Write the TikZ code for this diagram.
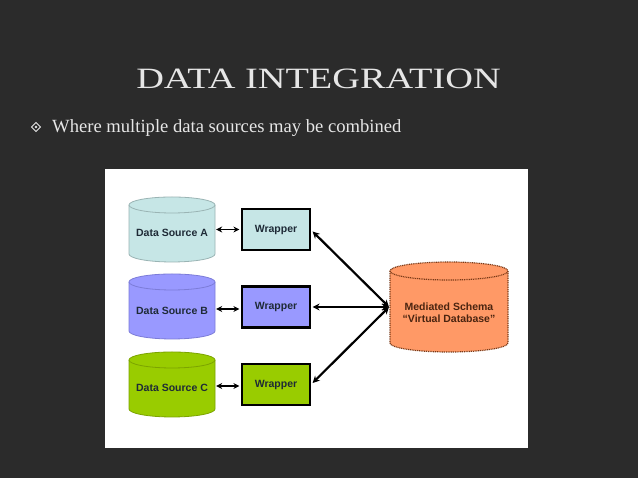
\documentclass[tikz,border=0pt]{standalone}
\usepackage{fontspec}
\setmainfont{Liberation Serif}
\newfontfamily\diagfont{Liberation Sans}
\usetikzlibrary{arrows.meta,calc}
\definecolor{bgc}{HTML}{2B2B2B}
\definecolor{slidetxt}{HTML}{E6E6E6}
\definecolor{cA}{HTML}{C6E6E6}
\definecolor{cAline}{HTML}{9AB4B4}
\definecolor{cB}{HTML}{9999FF}
\definecolor{cBline}{HTML}{7C7CD8}
\definecolor{cC}{HTML}{99CC00}
\definecolor{cCline}{HTML}{7CA400}
\definecolor{cM}{HTML}{FF9966}
\definecolor{cMline}{HTML}{7A3A18}
\definecolor{txt}{HTML}{1E2A36}
\definecolor{txtM}{HTML}{4A2410}
\newcommand\mycyl[6]{%
  \path[#6] (#1-#4,#3-#5) -- (#1-#4,#2+#5)
    arc[start angle=180,end angle=360,x radius=#4,y radius=#5]
    -- (#1+#4,#3-#5)
    arc[start angle=0,end angle=180,x radius=#4,y radius=#5] -- cycle;
  \path[#6] (#1-#4,#3-#5) arc[start angle=180,end angle=360,x radius=#4,y radius=#5];
}
\begin{document}
\begin{tikzpicture}[x=1pt,y=1pt,
  dfont/.style={font=\diagfont\bfseries\fontsize{10.5}{12}\selectfont},
  dstext/.style={dfont, text=txt, minimum width=86pt, inner sep=0pt},
  wrap/.style={dfont, text=txt, draw=black, line width=2.2pt, minimum width=68pt, minimum height=41pt, inner sep=0pt},
  link/.style={line width=2.2pt, {Stealth[length=7pt,width=7pt]}-{Stealth[length=7pt,width=7pt]}},
  slink/.style={line width=1.8pt, {Stealth[length=6pt,width=6pt]}-{Stealth[length=6pt,width=6pt]}}
]
\useasboundingbox (0,0) rectangle (638,478);
\fill[bgc] (0,0) rectangle (638,478);

% title and bullet
\node[anchor=base, text=slidetxt, font=\fontsize{29.5}{33}\selectfont] (title) at (318.5,389) {\scalebox{1.3}[1]{DATA INTEGRATION}};
\draw[slidetxt, line width=0.8pt] (36,355.5) -- (40.5,351) -- (36,346.5) -- (31.5,351) -- cycle;
\fill[slidetxt] (36,351) circle (1.3);
\node[anchor=base west, text=slidetxt, font=\fontsize{18.6}{22}\selectfont, inner sep=0pt] (bullet) at (52,345) {Where multiple data sources may be combined};

% panel
\fill[white] (105,30) rectangle (528,309);

% cylinders
\mycyl{172}{216}{281}{43}{8}{fill=cA, draw=cAline, line width=0.8pt}
\mycyl{172}{139}{204}{43}{8}{fill=cB, draw=cBline, line width=0.8pt}
\mycyl{172}{61}{126}{43}{8}{fill=cC, draw=cCline, line width=0.8pt}
\mycyl{449}{126}{216}{59}{9}{fill=cM, draw=cMline, line width=1.2pt, dash pattern=on 1pt off 0.8pt}

\node[dstext] (dsA) at (172,245.5) {Data Source A};
\node[dstext] (dsB) at (172,167) {Data Source B};
\node[dstext] (dsC) at (172,90) {Data Source C};

\node[wrap, fill=cA] (wA) at (276,248.5) {Wrapper};
\node[wrap, fill=cB] (wB) at (276,171) {Wrapper};
\node[wrap, fill=cC] (wC) at (276,93.5) {Wrapper};

\node[dfont, text=txtM, align=center, inner sep=0pt] (med) at (449,165) {Mediated Schema\\“Virtual Database”};
\coordinate (hub) at (389,171);

\draw[slink] ($(dsA.east)+(1,3)$) -- ($(wA.west)+(-1.5,0)$);
\draw[slink] ($(dsB.east)+(1,2)$) -- ($(wB.west)+(-1.5,-2)$);
\draw[slink] ($(dsC.east)+(1,2)$) -- ($(wC.west)+(-1.5,-1.5)$);

\draw[link] (hub) -- ($(wA.east)+(1.5,-2)$);
\draw[link] (hub) -- ($(wB.east)+(1.5,0)$);
\draw[link] (hub) -- ($(wC.east)+(1.5,1.5)$);
\end{tikzpicture}
\end{document}
